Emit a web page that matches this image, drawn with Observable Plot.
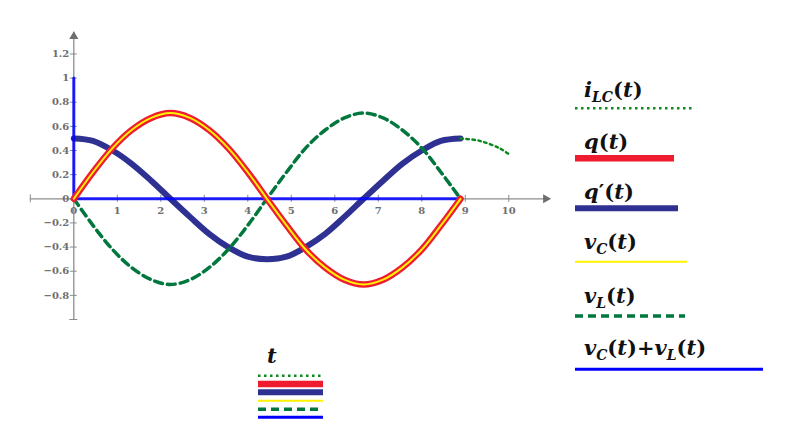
<!DOCTYPE html>
<html><head><meta charset="utf-8">
<script src="https://cdn.jsdelivr.net/npm/d3@7"></script>
<script src="https://cdn.jsdelivr.net/npm/@observablehq/plot@0.6"></script>
<style>
html,body{margin:0;padding:0;background:#fff;overflow:hidden}
#wrap{position:relative;width:786px;height:436px}
#wrap > svg{position:absolute;left:0;top:0}
.lbl{position:absolute;font-family:"DejaVu Serif",serif;font-size:21px;font-weight:bold;color:#111;white-space:nowrap;line-height:1;transform:translateY(-50%)}
.lbl i{font-style:italic}
.lbl sub{font-size:14px;font-style:italic;vertical-align:-5px;line-height:0}
</style></head><body><div id="wrap"></div>
<script>
// ---- data ----
const tValues      = [0,0.44,0.89,1.33,1.78,2.22,2.67,3.11,3.55,4.0,4.44,4.89,5.33,5.78,6.22,6.66,7.11,7.55,8.0,8.44,8.89];
const qValues      = [0,0.22,0.42,0.57,0.67,0.71,0.67,0.57,0.42,0.22,0,-0.22,-0.42,-0.57,-0.67,-0.71,-0.67,-0.57,-0.42,-0.22,0];
const qPrimeValues = [0.5,0.48,0.40,0.29,0.15,0,-0.15,-0.29,-0.40,-0.48,-0.5,-0.48,-0.40,-0.29,-0.15,0,0.15,0.29,0.40,0.48,0.5];
const vCValues     = [0,0.22,0.42,0.57,0.67,0.71,0.67,0.57,0.42,0.22,0,-0.22,-0.42,-0.57,-0.67,-0.71,-0.67,-0.57,-0.42,-0.22,0];
const vLValues     = [0,-0.22,-0.42,-0.57,-0.67,-0.71,-0.67,-0.57,-0.42,-0.22,0,0.22,0.42,0.57,0.67,0.71,0.67,0.57,0.42,0.22,0];
const iLCTimes     = [8.89,9.33,9.78,10.0];
const iLCValues    = [0.5,0.48,0.42,0.37];
const sumTimes     = [0,0,8.89];
const sumValues    = [1,0,0];
const xTicks       = [0,1,2,3,4,5,6,7,8,9,10];
const xTickLabels  = ["0","1","2","3","4","5","6","7","8","9","10"];
const yTicks       = [-0.8,-0.6,-0.4,-0.2,0,0.2,0.4,0.6,0.8,1,1.2];
const yTickLabels  = ["−0.8","−0.6","−0.4","−0.2","0","0.2","0.4","0.6","0.8","1","1.2"];
const xAxisExtent  = [-1, 10.95];
const yAxisExtent  = [-1, 1.38];

// ---- styles ----
const seriesNames  = ["iLC","q","qPrime","vC","vL","sum"];
const seriesColors = {iLC:"#0b8a1f", q:"#ee1c2e", qPrime:"#2e3192", vC:"#fff200", vL:"#00773d", sum:"#0000ff"};
const seriesWidths = {iLC:2.5, q:6.5, qPrime:6, vC:2, vL:3.5, sum:3};
const seriesDash   = {iLC:"2.5,3.5", q:null, qPrime:null, vC:null, vL:"8,5", sum:null};
const seriesLabels = {
  iLC: '<i>i</i><sub>LC</sub>(<i>t</i>)',
  q: '<i>q</i>(<i>t</i>)',
  qPrime: '<i>q</i>′(<i>t</i>)',
  vC: '<i>v</i><sub>C</sub>(<i>t</i>)',
  vL: '<i>v</i><sub>L</sub>(<i>t</i>)',
  sum: '<i>v</i><sub>C</sub>(<i>t</i>)+<i>v</i><sub>L</sub>(<i>t</i>)'
};
const axisColor = "#8c8c8c";
const tickFont = "DejaVu Serif";

const st = k => ({stroke: seriesColors[k], strokeWidth: seriesWidths[k], strokeDasharray: seriesDash[k] || undefined});

const chart = Plot.plot({
  width: 786, height: 436,
  marginLeft: 29.8, marginRight: 234.2, marginTop: 29.3, marginBottom: 117,
  x: {domain: [-1, 11], axis: null},
  y: {domain: [-1, 1.4], axis: null},
  marks: [
    Plot.ruleY([0], {x1: xAxisExtent[0], x2: xAxisExtent[1], stroke: axisColor, strokeWidth: 1.3}),
    Plot.ruleX([0], {y1: yAxisExtent[0], y2: yAxisExtent[1], stroke: axisColor, strokeWidth: 1.3}),
    Plot.ruleX(xTicks.slice(1), {x: d => d, y1: 0, y2: 0, insetTop: -3.5, insetBottom: -3.5, stroke: axisColor, strokeWidth: 1}),
    Plot.ruleY(yTicks, {y: d => d, x1: 0, x2: 0, insetLeft: -3.5, insetRight: -3.5, stroke: axisColor, strokeWidth: 1}),
    Plot.ruleX([xAxisExtent[0]], {x: d => d, y1: 0, y2: 0, insetTop: -4, insetBottom: -4, stroke: axisColor, strokeWidth: 1}),
    Plot.ruleY([yAxisExtent[0]], {y: d => d, x1: 0, x2: 0, insetLeft: -4, insetRight: -4, stroke: axisColor, strokeWidth: 1}),
    Plot.dot([0], {x: xAxisExtent[1] - 0.1, y: 0, symbol: "triangle", r: 3.4, rotate: 90, fill: "#6e6e6e", stroke: null}),
    Plot.dot([0], {x: 0, y: yAxisExtent[1] - 0.035, symbol: "triangle", r: 3.4, fill: "#6e6e6e", stroke: null}),
    Plot.text(xTicks, {x: d => d, y: 0, text: (d, i) => xTickLabels[i], dy: 12.5, fill: "#6e6e6e", fontSize: 10, fontWeight: "bold", fontFamily: tickFont}),
    Plot.text(yTicks, {x: 0, y: d => d, text: (d, i) => yTickLabels[i], textAnchor: "end", dx: -4.5, fill: "#6e6e6e", fontSize: 10, fontWeight: "bold", fontFamily: tickFont}),
    Plot.line(tValues, {x: tValues, y: qPrimeValues, curve: "catmull-rom", ...st("qPrime")}),
    Plot.line(iLCTimes, {x: iLCTimes, y: iLCValues, curve: "catmull-rom", ...st("iLC")}),
    Plot.line(sumTimes, {x: sumTimes, y: sumValues, ...st("sum"), strokeOpacity: 0.85}),
    Plot.line(tValues, {x: tValues, y: vLValues, curve: "catmull-rom", ...st("vL")}),
    Plot.line(tValues, {x: tValues, y: qValues, curve: "catmull-rom", ...st("q")}),
    Plot.line(tValues, {x: tValues, y: vCValues, curve: "catmull-rom", ...st("vC")})
  ]
});
const wrap = document.getElementById("wrap");
wrap.appendChild(chart);

// ---- legends (layout) ----
const rightLegend = {
  iLC:    {labelY: 88.5, lineY: 108.3, x2: 693},
  q:      {labelY: 140.5, lineY: 158.3, x2: 674},
  qPrime: {labelY: 191,  lineY: 208.3, x2: 678},
  vC:     {labelY: 241,  lineY: 261.7, x2: 687},
  vL:     {labelY: 295,  lineY: 316,   x2: 685},
  sum:    {labelY: 347,  lineY: 369.3, x2: 763}
};
const bottomLegendY = {iLC: 375.7, q: 384, qPrime: 392.3, vC: 400.7, vL: 409.3, sum: 417.3};

const ov = d3.select(wrap).append("svg").attr("width", 786).attr("height", 436);
seriesNames.forEach(k => {
  const r = rightLegend[k];
  ov.append("line").attr("x1", 575).attr("x2", r.x2).attr("y1", r.lineY).attr("y2", r.lineY)
    .attr("stroke", seriesColors[k]).attr("stroke-width", seriesWidths[k])
    .attr("stroke-dasharray", seriesDash[k]);
  const div = document.createElement("div");
  div.className = "lbl";
  div.style.left = "584px";
  div.style.top = r.labelY + "px";
  div.innerHTML = seriesLabels[k];
  wrap.appendChild(div);
  const by = bottomLegendY[k];
  ov.append("line").attr("x1", 258).attr("x2", 323).attr("y1", by).attr("y2", by)
    .attr("stroke", seriesColors[k]).attr("stroke-width", seriesWidths[k])
    .attr("stroke-dasharray", seriesDash[k]);
});
const tdiv = document.createElement("div");
tdiv.className = "lbl";
tdiv.style.left = "267px";
tdiv.style.top = "355px";
tdiv.innerHTML = "<i>t</i>";
wrap.appendChild(tdiv);
</script>
</body></html>
